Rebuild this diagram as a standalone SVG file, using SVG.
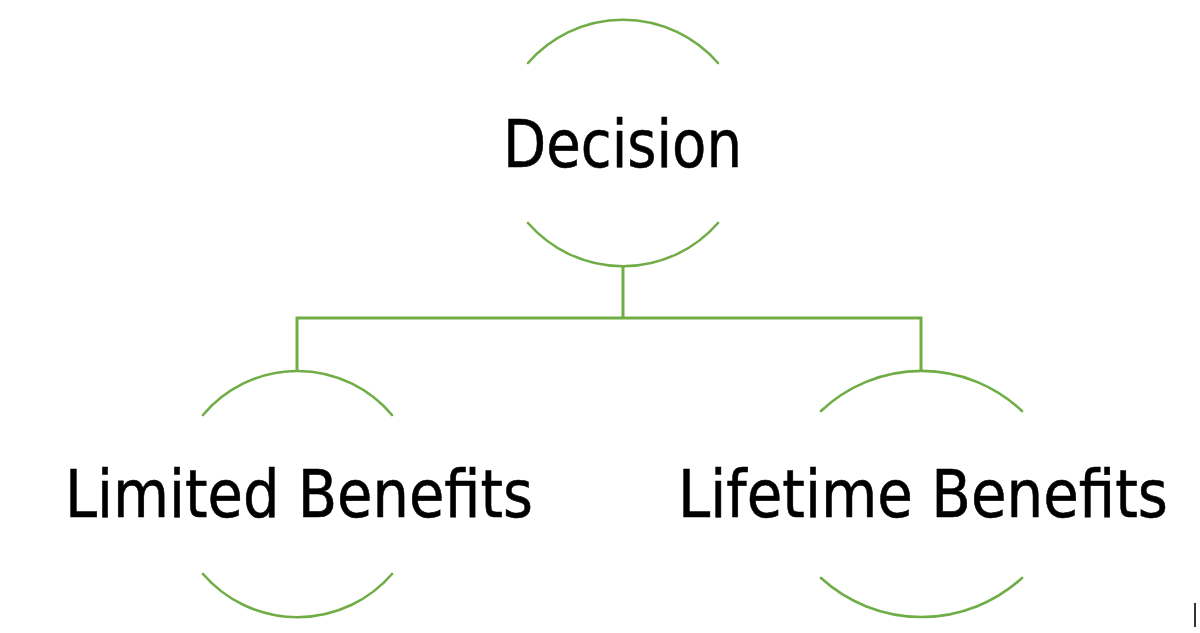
<svg xmlns="http://www.w3.org/2000/svg" width="1200" height="633" viewBox="0 0 1200 633">
<style>
.arc{fill:none;stroke:#70AD47;stroke-width:2.6;stroke-linecap:round}
.conn{fill:none;stroke:#70AD47;stroke-width:3}
.lbl{font-family:"DejaVu Sans","Liberation Sans",sans-serif;font-size:66px;fill:#000;stroke:#000;stroke-width:0.6}
</style>
<rect width="1200" height="633" fill="#fff"/>
<g id="connectors">
<path class="conn" d="M623,267 V318 M297,371 V318 H921 V371"/>
</g>
<g id="decision">
<path class="arc" d="M528,63 A126,126 0 0 1 718,63"/>
<path class="arc" d="M528,223 A126,126 0 0 0 718,223"/>
<text class="lbl" x="503" y="167" textLength="239" lengthAdjust="spacingAndGlyphs">Decision</text>
</g>
<g id="limited">
<path class="arc" d="M203,415 A123.5,123.5 0 0 1 392,415"/>
<path class="arc" d="M203,574 A125,125 0 0 0 392,574"/>
<text class="lbl" x="65" y="517" textLength="468" lengthAdjust="spacingAndGlyphs">Limited Benefits</text>
</g>
<g id="lifetime">
<path class="arc" d="M821,411 A146,146 0 0 1 1022,411"/>
<path class="arc" d="M821,578 A149,149 0 0 0 1022,578"/>
<text class="lbl" x="678" y="517" textLength="490" lengthAdjust="spacingAndGlyphs">Lifetime Benefits</text>
</g>
<line x1="1195" y1="603" x2="1195" y2="627" stroke="#333" stroke-width="2"/>
</svg>
